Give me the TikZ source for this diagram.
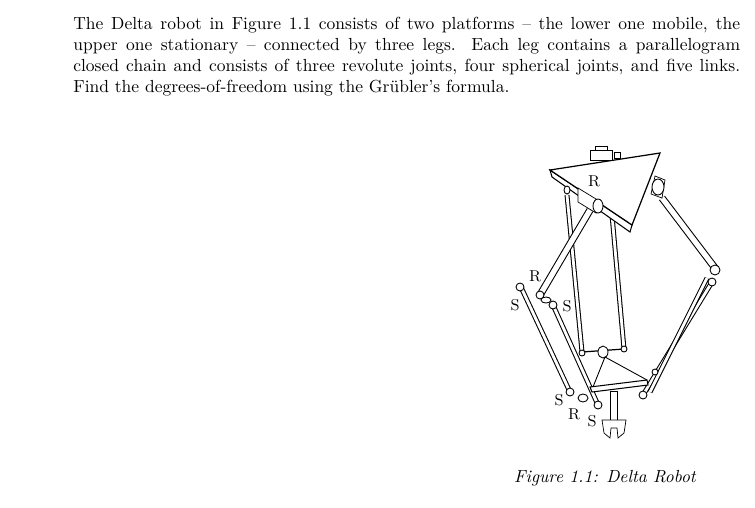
\documentclass[tikz,border=0pt]{standalone}
\begin{document}
\begin{tikzpicture}[x=0.5714pt,y=-0.5714pt,
  rod/.style={draw,line width=0.6pt,double=white,double distance=1.6pt},
  ball/.style={draw,fill=white,line width=0.5pt},
  lbl/.style={inner sep=0pt,font=\small}]
\useasboundingbox (0,0) rectangle (755,507);
\node[anchor=north west,text width=381pt,align=justify,inner sep=0pt] (txt) at (73,17)
{The Delta robot in Figure 1.1 consists of two platforms -- the lower one mobile, the upper one stationary -- connected by three legs. Each leg contains a parallelogram closed chain and consists of three revolute joints, four spherical joints, and five links. Find the degrees-of-freedom using the Gr\"ubler's formula.};
% back vertical rods
\draw[rod] (567,195) -- (582,352);
\draw[rod] (612,215) -- (624,349);
% upper arms
\draw[rod,double distance=3pt] (590,210) -- (540,295);
\draw[rod,double distance=3pt] (662,198) -- (715,268);
% top platform
\draw[fill=white,line width=0.6pt] (550,170) -- (552,177) -- (630,232) -- (632,225) -- cycle;
\draw[fill=white,line width=0.7pt] (550,170) -- (660,153) -- (632,225) -- cycle;
\draw[fill=white] (590,160) rectangle (612,150);
\draw[fill=white] (595,150) rectangle (607,146);
\draw[fill=white] (614,158) rectangle (620,152);
\node[lbl] (rtop) at (594,181) {R};
% motors
\draw[fill=white] (578,188) -- (596,199) -- (596,213) -- (578,202) -- cycle;
\draw[ball] (598,206) ellipse (5 and 7);
\draw[fill=white] (655,176) -- (665,180) -- (662,198) -- (651,194) -- cycle;
\draw[ball] (658,187) ellipse (6 and 8);
\draw[ball] (567,190) ellipse (3 and 4);
% lower parallelograms
\draw[rod] (520,285) -- (570,392);
\draw[rod] (553,305) -- (598,405);
\draw[rod] (712,282) -- (643,395);
\draw[rod] (707,278) -- (650,392);
% back joint bar
\draw[line width=0.7pt] (582,352) -- (624,349);
\draw[ball] (603,352) ellipse (5 and 6);
\draw[ball] (582,353) circle (3);
\draw[ball] (624,349) circle (3);
% lower platform
\draw[line width=0.5pt] (605,357) -- (593,387);
\draw[line width=0.5pt] (605,357) -- (647,380);
\draw[fill=white,line width=0.6pt] (590,387) -- (647,380) -- (648,385) -- (592,392) -- cycle;
% gripper
\draw[fill=white] (610,391) rectangle (617,420);
\draw[fill=white] (602,420) -- (626,420) -- (624,433) -- (618,438) -- (617,428) -- (611,428) -- (610,438) -- (604,433) -- cycle;
% joints on left/right chains
\draw[ball] (540,295) circle (4);
\draw[ball] (520,287) circle (4);
\draw[ball] (553,305) circle (4);
\draw[ball] (546,300) ellipse (5 and 3);
\draw[ball] (570,392) circle (4);
\draw[ball] (583,398) ellipse (5 and 4);
\draw[ball] (598,405) circle (4);
\draw[ball] (715,270) circle (5);
\draw[ball] (712,282) circle (4);
\draw[ball] (643,395) circle (4);
\draw[ball] (655,372) circle (3);
% labels
\node[lbl] (r1) at (535,276) {R};
\node[lbl] (s1) at (515,305) {S};
\node[lbl] (s2) at (567,306) {S};
\node[lbl] (s3) at (559,400) {S};
\node[lbl] (r2) at (574,414) {R};
\node[lbl] (s4) at (592,421) {S};
\node[font=\itshape] (cap) at (605,478) {Figure 1.1: Delta Robot};
\end{tikzpicture}
\end{document}
